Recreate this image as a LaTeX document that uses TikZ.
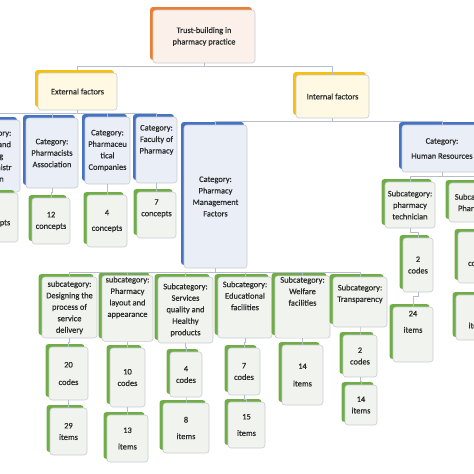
\documentclass[tikz,border=0pt]{standalone}
\usepackage{fontspec}
\setmainfont{Carlito}
\newfontfamily\boxfamily{Carlito}[FakeBold=0.6]
\usetikzlibrary{shadows}

\definecolor{rootcol}{HTML}{ED7D31}
\definecolor{rootfill}{HTML}{FBF0EA}
\definecolor{factcol}{HTML}{F5C010}
\definecolor{factfill}{HTML}{FFF9E4}
\definecolor{catcol}{HTML}{4472C4}
\definecolor{catfill}{HTML}{E9EEF7}
\definecolor{subcol}{HTML}{70AD47}
\definecolor{subfill}{HTML}{F1F4EE}
\definecolor{boxline}{HTML}{C9CCD1}
\definecolor{linkcol}{HTML}{B7BECB}
\definecolor{textcol}{HTML}{2B2B2B}

\tikzset{
  box/.style={draw=boxline, line width=0.6pt, rounded corners=3pt, align=center,
    inner sep=1pt, text=textcol, font=\boxfamily\fontsize{8.4}{11.5}\selectfont},
  rootbox/.style={box, fill=rootfill,
    general shadow={fill=rootcol, shadow xshift=-3pt, shadow yshift=3pt}},
  factbox/.style={box, fill=factfill,
    general shadow={fill=factcol, shadow xshift=-3pt, shadow yshift=3pt}},
  catbox/.style={box, fill=catfill,
    general shadow={fill=catcol, shadow xshift=-3pt, shadow yshift=3pt}},
  subbox/.style={box, fill=subfill,
    general shadow={fill=subcol, shadow xshift=-3.5pt, shadow yshift=3pt}},
  link/.style={draw=linkcol, line width=0.7pt},
}

\begin{document}
\begin{tikzpicture}[x=1pt, y=-1pt]
  \useasboundingbox (0,0) rectangle (474,474);
  \clip (0,0) rectangle (474,474);

  % top levels
  \node[rootbox, minimum width=102, minimum height=53] (root) at (204,36.5) {Trust-building in\\pharmacy practice};
  \node[factbox, minimum width=79, minimum height=37] (ext) at (77.5,91.5) {External factors};
  \node[factbox, minimum width=73, minimum height=43] (int) at (332.5,96.5) {Internal factors};

  % external categories
  \node[catbox, minimum width=50, minimum height=72] (fda) at (-5,156) {Category:\\Food and\\Drug\\Administr\\ation};
  \node[catbox, minimum width=52, minimum height=70] (pa) at (52,153) {Category:\\Pharmacists\\Association};
  \node[catbox, minimum width=45, minimum height=67] (pc) at (107.5,150.5) {Category:\\Pharmaceu\\tical\\Companies};
  \node[catbox, minimum width=41, minimum height=66] (fp) at (156.5,150) {Category:\\Faculty of\\Pharmacy\\[10pt]};

  \node[subbox, minimum width=46, minimum height=49] (fdac) at (-5,217.5) {3\\concepts};
  \node[subbox, minimum width=38, minimum height=46] (pac) at (51,221) {12\\concepts};
  \node[subbox, minimum width=40, minimum height=52] (pcc) at (107,221) {4\\[4pt]concepts};
  \node[subbox, minimum width=39, minimum height=46] (fpc) at (156.5,215) {7\\concepts\\[3pt]};

  % internal categories
  \node[catbox, minimum width=63, minimum height=143] (pmf) at (215.5,196.5) {Category:\\Pharmacy\\Management\\Factors};
  \node[catbox, minimum width=80, minimum height=47] (hr) at (442,148.5) {Category:\\[3.5pt]Human Resources};

  % human resources
  \node[subbox, minimum width=50, minimum height=46] (tech) at (410,205) {Subcategory:\\pharmacy\\technician};
  \node[subbox, minimum width=56, minimum height=39] (phar) at (477,202.5) {Subcategory:\\Pharmacist};
  \node[subbox, minimum width=30, minimum height=54] (techc) at (418,265) {2\\codes};
  \node[subbox, minimum width=40, minimum height=55] (techi) at (413,334.5) {24\\[5pt]items\\[14pt]};
  \node[subbox, minimum width=40, minimum height=51] (pharc) at (478,257.5) {13\\codes};
  \node[subbox, minimum width=44, minimum height=45] (phari) at (478,317.5) {31\\[5pt]items};

  % pharmacy management subcategories
  \node[subbox, minimum width=55, minimum height=61] (sdes) at (69.5,307.5) {subcategory:\\Designing the\\process of\\service\\delivery};
  \node[subbox, minimum width=51, minimum height=63] (slay) at (127.5,308.5) {subcategory:\\Pharmacy\\layout and\\appearance\\[12pt]};
  \node[subbox, minimum width=55, minimum height=66] (sser) at (185.5,310) {Subcategory:\\Services\\quality and\\Healthy\\products};
  \node[subbox, minimum width=54, minimum height=61] (sedu) at (245,307.5) {Subcategory:\\Educational\\facilities\\[12pt]};
  \node[subbox, minimum width=55, minimum height=60] (swel) at (302.5,307) {Subcategory:\\Welfare\\facilities\\[20pt]};
  \node[subbox, minimum width=54, minimum height=50] (stra) at (360,302) {Subcategory:\\Transparency\\[6pt]};

  \node[subbox, minimum width=39, minimum height=53] (cdes) at (68.5,373.5) {20\\[6pt]codes};
  \node[subbox, minimum width=35, minimum height=59] (clay) at (127.5,377.5) {10\\codes};
  \node[subbox, minimum width=32, minimum height=45] (cser) at (186,374.5) {4\\codes};
  \node[subbox, minimum width=32, minimum height=47] (cedu) at (244,371.5) {7\\codes};
  \node[subbox, minimum width=41, minimum height=60] (cwel) at (302.5,375) {14\\[6pt]items};
  \node[subbox, minimum width=34, minimum height=42] (ctra) at (360,356) {2\\codes};

  \node[subbox, minimum width=37, minimum height=47] (ides) at (68.5,431.5) {29\\items};
  \node[subbox, minimum width=41, minimum height=47] (ilay) at (127.5,438.5) {13\\[5pt]items};
  \node[subbox, minimum width=46, minimum height=50] (iser) at (186,428) {8\\[5pt]items};
  \node[subbox, minimum width=37, minimum height=46] (iedu) at (246.5,425) {15\\[5pt]items};
  \node[subbox, minimum width=32, minimum height=40] (itra) at (361,405) {14\\items};

  % connectors
  \draw[link] (root.south) -- ++(0,3) -| (ext.north);
  \draw[link] (root.south) -- ++(0,3) -| (int.north);
  \foreach \c in {fda,pa,pc,fp}
    \draw[link] (ext.south) -- ++(0,3) -| (\c.north);
  \draw[link] (int.south) -- ++(0,3) -| (pmf.north);
  \draw[link] (int.south) -- ++(0,3) -| (hr.north);
  \foreach \c in {tech,phar}
    \draw[link] (hr.south) -- ++(0,4) -| (\c.north);
  \foreach \c in {sdes,slay,sser,sedu,swel,stra}
    \draw[link] (pmf.south) -- ++(0,4) -| (\c.north);

  \foreach \a/\b in {fda/fdac,pa/pac,pc/pcc,fp/fpc,
      sdes/cdes,slay/clay,sser/cser,sedu/cedu,swel/cwel,stra/ctra,
      cdes/ides,clay/ilay,cser/iser,cedu/iedu,ctra/itra,
      tech/techc,techc/techi,phar/pharc,pharc/phari}
    \draw[link] (\a.south) -- ++(0,4) -| (\b.north);
\end{tikzpicture}
\end{document}
